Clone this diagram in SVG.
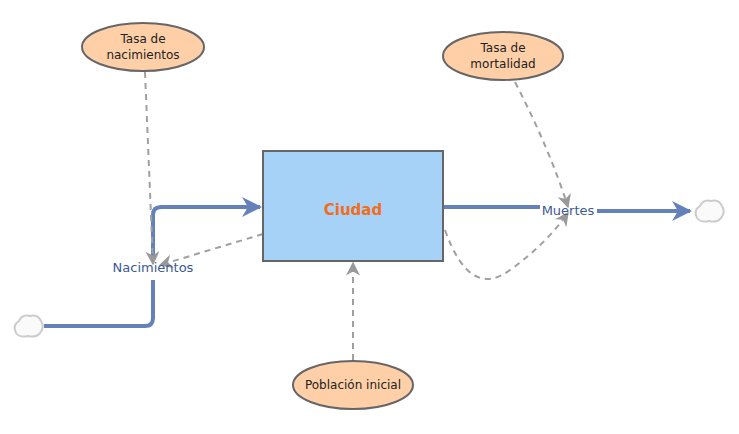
<svg xmlns="http://www.w3.org/2000/svg" width="739" height="434" viewBox="0 0 739 434">
<style>
.flow{fill:none;stroke:#6482b9;stroke-width:4}
.dash{fill:none;stroke:#a0a0a0;stroke-width:2;stroke-dasharray:6 5}
.aux{fill:#ffcfa8;stroke:#666;stroke-width:2}
.t{font-family:"DejaVu Sans",sans-serif;font-size:12px;fill:#222;text-anchor:middle}
.lbl{font-family:"DejaVu Sans",sans-serif;font-size:13px;fill:#3c5a96;text-anchor:middle}
.cloud{fill:#fafafa;stroke:#ccc;stroke-width:2}
</style>
<defs>
<marker id="fa" viewBox="0 0 10 10" refX="9" refY="5" markerWidth="5" markerHeight="5" orient="auto" markerUnits="strokeWidth"><path d="M0,0L10,5L0,10L3,5Z" fill="#6482b9"/></marker>
<marker id="da" viewBox="0 0 10 10" refX="9" refY="5" markerWidth="7" markerHeight="7" orient="auto" markerUnits="strokeWidth"><path d="M0,0L10,5L0,10L3,5Z" fill="#999"/></marker>
</defs>
<rect width="739" height="434" fill="#fff"/>
<g id="connectors">
<path class="flow" d="M44,326H145Q153,326 153,318V280M153,258V215Q153,207 161,207H260" marker-end="url(#fa)"/>
<path class="flow" d="M443,207H540M597,211H690" marker-end="url(#fa)"/>
<path class="dash" d="M145,72L153,264" marker-end="url(#da)"/>
<path class="dash" d="M263,234L160,265" marker-end="url(#da)"/>
<path class="dash" d="M515,82Q550,150 568,207" marker-end="url(#da)"/>
<path class="dash" d="M445,230Q470,300 510,270Q545,245 568,213" marker-end="url(#da)"/>
<path class="dash" d="M353,360V263" marker-end="url(#da)"/>
</g>
<g id="ciudad"><rect x="263" y="151" width="180" height="110" fill="#a6d2f7" stroke="#666" stroke-width="2"/><text x="353" y="215" font-family="DejaVu Sans,sans-serif" font-size="15" font-weight="bold" fill="#f26d1d" text-anchor="middle">Ciudad</text></g>
<g id="nacimientos"><text class="lbl" x="153" y="272">Nacimientos</text></g>
<g id="muertes"><text class="lbl" x="568" y="215">Muertes</text></g>
<g id="tasa-nac"><ellipse class="aux" cx="143" cy="47" rx="61" ry="24"/><text class="t" x="143" y="43">Tasa de</text><text class="t" x="143" y="59">nacimientos</text></g>
<g id="tasa-mort"><ellipse class="aux" cx="503" cy="56" rx="60" ry="24"/><text class="t" x="503" y="52">Tasa de</text><text class="t" x="503" y="68">mortalidad</text></g>
<g id="poblacion"><ellipse class="aux" cx="353" cy="385" rx="60" ry="24"/><text class="t" x="353" y="389">Población inicial</text></g>
<g id="cloud-in"><path class="cloud" d="M16,333Q12,325 19,321Q22,314 30,316Q38,314 41,321Q45,327 40,333Q36,338 28,336Q20,338 16,333Z"/></g>
<g id="cloud-out"><path class="cloud" d="M697,218Q693,210 700,206Q703,199 711,201Q719,199 722,206Q726,212 721,218Q717,223 709,221Q701,223 697,218Z"/></g>
</svg>
